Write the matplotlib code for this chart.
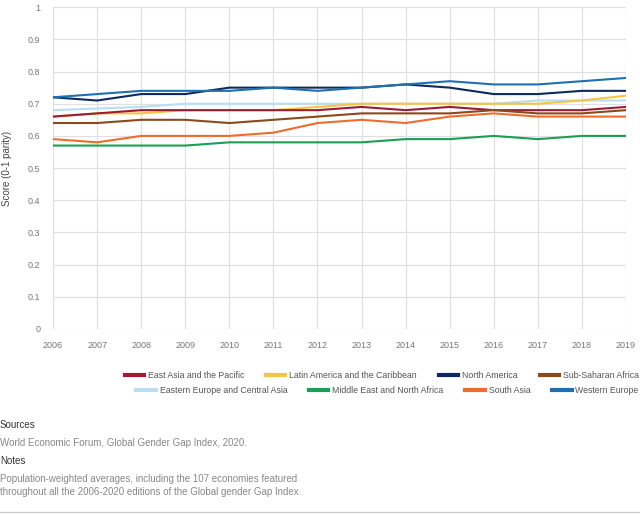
import matplotlib
matplotlib.use("Agg")
import matplotlib.pyplot as plt
from matplotlib.lines import Line2D

plt.rcParams['font.family'] = ['Liberation Sans', 'DejaVu Sans']

years = list(range(2006, 2020))

east_asia = [0.66, 0.67, 0.68, 0.68, 0.68, 0.68, 0.68, 0.69, 0.68, 0.69, 0.68, 0.68, 0.68, 0.69]
latin_america = [0.66, 0.67, 0.67, 0.68, 0.68, 0.68, 0.69, 0.70, 0.70, 0.70, 0.70, 0.70, 0.71, 0.725]
north_america = [0.72, 0.71, 0.73, 0.73, 0.75, 0.75, 0.75, 0.75, 0.76, 0.75, 0.73, 0.73, 0.74, 0.74]
sub_saharan = [0.64, 0.64, 0.65, 0.65, 0.64, 0.65, 0.66, 0.67, 0.67, 0.67, 0.68, 0.67, 0.67, 0.68]
eastern_europe = [0.68, 0.685, 0.69, 0.70, 0.70, 0.70, 0.70, 0.70, 0.70, 0.70, 0.70, 0.71, 0.71, 0.71]
mena = [0.57, 0.57, 0.57, 0.57, 0.58, 0.58, 0.58, 0.58, 0.59, 0.59, 0.60, 0.59, 0.60, 0.60]
south_asia = [0.59, 0.58, 0.60, 0.60, 0.60, 0.61, 0.64, 0.65, 0.64, 0.66, 0.67, 0.66, 0.66, 0.66]
western_europe = [0.72, 0.73, 0.74, 0.74, 0.74, 0.75, 0.74, 0.75, 0.76, 0.77, 0.76, 0.76, 0.77, 0.78]

# (label, values, colour) in legend order
series = [
    ("East Asia and the Pacific", east_asia, "#9e1b32"),
    ("Latin America and the Caribbean", latin_america, "#f5c542"),
    ("North America", north_america, "#0d2a5c"),
    ("Sub-Saharan Africa", sub_saharan, "#8b4a1c"),
    ("Eastern Europe and Central Asia", eastern_europe, "#b9def3"),
    ("Middle East and North Africa", mena, "#1c9e55"),
    ("South Asia", south_asia, "#ee6c2c"),
    ("Western Europe", western_europe, "#1f6fb2"),
]
# draw order so the reference layering is kept
draw_order = [4, 1, 0, 3, 6, 5, 2, 7]

fig = plt.figure(figsize=(6.4, 5.14), dpi=100)
ax = fig.add_axes([0.083, 0.36, 0.895, 0.626])

for i in draw_order:
    label, vals, col = series[i]
    ax.plot(years, vals, color=col, lw=1.5, label=label, zorder=3)

ax.set_xlim(2006, 2019)
ax.set_ylim(0, 1)
ax.set_xticks(years)
ax.set_yticks([i / 10 for i in range(11)])
ax.set_yticklabels(["0", "0.1", "0.2", "0.3", "0.4", "0.5", "0.6", "0.7", "0.8", "0.9", "1"])
ax.grid(True, color="#e0e0e0", lw=0.9, zorder=0)
for s in ax.spines.values():
    s.set_visible(False)
ax.tick_params(length=0, labelsize=6.5, labelcolor="#777777")
ax.tick_params(axis='x', pad=9)
ax.tick_params(axis='y', pad=9)
ax.set_ylabel("Score (0-1 parity)", fontsize=7, color="#444444")
ax.yaxis.set_label_coords(-0.072, 0.5)

# two legend rows, right aligned
def legend_row(items, y):
    handles = [Line2D([], [], color=c, lw=3) for _, _, c in items]
    labels = [l for l, _, _ in items]
    leg = fig.legend(handles, labels, loc="upper right", bbox_to_anchor=(0.998, y),
                     ncol=4, frameon=False, fontsize=6.3, handlelength=2.2,
                     handletextpad=0.45, columnspacing=2.5, borderaxespad=0, borderpad=0)
    for t in leg.get_texts():
        t.set_color("#555555")
    return leg

legend_row(series[:4], 0.279)
legend_row(series[4:], 0.249)

fig.text(0.0, 0.168, "Sources", fontsize=7, color="#333333")
fig.text(0.0, 0.133, "World Economic Forum, Global Gender Gap Index, 2020.", fontsize=7, color="#888888")
fig.text(0.0, 0.098, "Notes", fontsize=7, color="#333333")
fig.text(0.0, 0.063, "Population-weighted averages, including the 107 economies featured", fontsize=7, color="#888888")
fig.text(0.0, 0.037, "throughout all the 2006-2020 editions of the Global gender Gap Index.", fontsize=7, color="#888888")
fig.add_artist(Line2D([0, 1], [0.004, 0.004], color="#cccccc", lw=1))

fig.savefig("out.png", dpi=100)
